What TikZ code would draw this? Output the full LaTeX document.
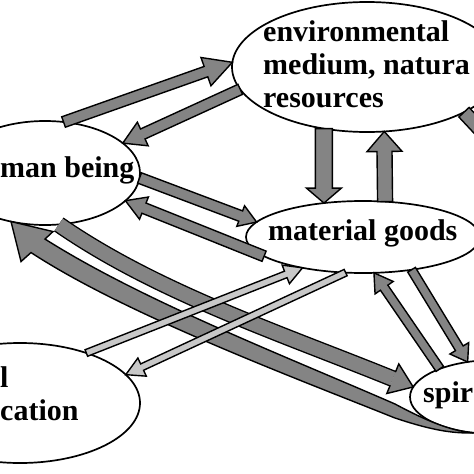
\documentclass[tikz,border=0pt]{standalone}
\usepackage{fontspec}
\setmainfont{Liberation Serif}
\usetikzlibrary{shapes.geometric,calc}
\definecolor{darkfill}{HTML}{848484}
\definecolor{lightfill}{HTML}{C8C8C8}
\tikzset{
  ell/.style={ellipse, draw, line width=1.7pt, fill=white, inner sep=0pt, outer sep=0pt},
  lbl/.style={anchor=base west, inner sep=0pt, font=\fontsize{30}{33}\selectfont\bfseries},
  darkarrow/.style={draw, line width=1.4pt, fill=darkfill, line join=miter},
  lightarrow/.style={draw, line width=1.4pt, fill=lightfill, line join=miter},
}
% #1 from, #2 to, #3 half shaft width, #4 half head width, #5 head length, #6 style
\newcommand\blockarrow[6]{%
  \coordinate (bam) at ($(#2)!#5!(#1)$);
  \path[#6] ($(#1)!#3!90:(#2)$) -- ($(bam)!#3!90:(#2)$) -- ($(bam)!#4!90:(#2)$)
    -- (#2) -- ($(bam)!#4!-90:(#2)$) -- ($(bam)!#3!-90:(#2)$) -- ($(#1)!#3!-90:(#2)$) -- cycle;
}
\begin{document}
\begin{tikzpicture}[x=1pt,y=-1pt]
\useasboundingbox (0,0) rectangle (474,474);
\clip (0,0) rectangle (474,474);
% ellipses
\node[ell, minimum width=270pt, minimum height=130pt] (env) at (367,67) {};
\node[ell, minimum width=190pt, minimum height=104pt] (hum) at (45,173) {};
\node[ell, minimum width=234pt, minimum height=72pt] (mat) at (363,237) {};
\node[ell, minimum width=170pt, minimum height=74pt] (spir) at (495,397) {};
\node[ell, minimum width=240pt, minimum height=120pt] (comm) at (20,403) {};
\coordinate (offr) at (520,172);
% dark connectors
\blockarrow{hum.70}{env.178}{5.5pt}{15pt}{28pt}{darkarrow}
\blockarrow{env.-170.4}{hum.21.3}{5.5pt}{13pt}{22pt}{darkarrow}
\blockarrow{hum.-3}{mat.172}{5.5pt}{11pt}{17pt}{darkarrow}
\blockarrow{mat.-169}{hum.-19.7}{5.5pt}{12pt}{20pt}{darkarrow}
\blockarrow{env.-125.4}{mat.139.5}{8.5pt}{17.5pt}{15pt}{darkarrow}
\blockarrow{mat.58.6}{env.-75.2}{7.5pt}{17.5pt}{20pt}{darkarrow}
\blockarrow{env.-25.3}{offr}{7pt}{16pt}{20pt}{darkarrow}
\blockarrow{spir.153.4}{mat.-73.7}{4.5pt}{11pt}{18pt}{darkarrow}
\blockarrow{mat.-34.2}{spir.128.7}{4.5pt}{11pt}{16pt}{darkarrow}
% curved connector hum -> spir
\coordinate (iT) at (spir.173.3);
\coordinate (iB) at ($(iT)+(-20.4,-8.25)$);
\draw[line width=16.8pt, black] (hum.-75) .. controls ($(hum.-75)+(98,68)$) and ($(iB)+(-111,-45)$) .. (iB);
\draw[line width=14pt, darkfill] (hum.-75) .. controls ($(hum.-75)+(98,68)$) and ($(iB)+(-111,-45)$) .. (iB);
\path[darkarrow] ($(iB)+(-2.6,6.5)$) -- ($(iB)+(-6,14.8)$) -- (iT) -- ($(iB)+(6,-14.8)$) -- ($(iB)+(2.6,-6.5)$);
% tapered curved connector spir -> hum
\coordinate (tT) at (hum.-125);
\coordinate (tS) at (spir.-121.9);
\path[darkarrow] (tS) .. controls (450,431) and (425,420) .. (395,404)
  .. controls (285,356) and (143,301) .. ($(tT)+(34,17.5)$)
  -- ($(tT)+(42,10)$) -- (tT) -- ($(tT)+(10,40)$) -- ($(tT)+(20,31)$)
  .. controls (125,314) and (290,376) .. (395,418)
  .. controls (425,428) and (450,434) .. (tS) -- cycle;
% light connectors
\blockarrow{comm.37.7}{mat.-153.4}{3.5pt}{10pt}{18pt}{lightarrow}
\blockarrow{mat.-116.6}{comm.15.9}{3.5pt}{10pt}{18pt}{lightarrow}
% texts
\node[lbl] (envt1) at (263,41) {environmental};
\node[lbl] (envt2) at (263,74) {medium, natura};
\node[lbl] (envt3) at (263,107) {resources};
\node[lbl] (humt) at (0,177) {man being};
\node[lbl] (matt) at (268,240) {material goods};
\node[lbl] (spirt) at (423,402) {spir};
\node[lbl] (commt1) at (0,387) {l};
\node[lbl] (commt2) at (0,420) {cation};
\end{tikzpicture}
\end{document}
